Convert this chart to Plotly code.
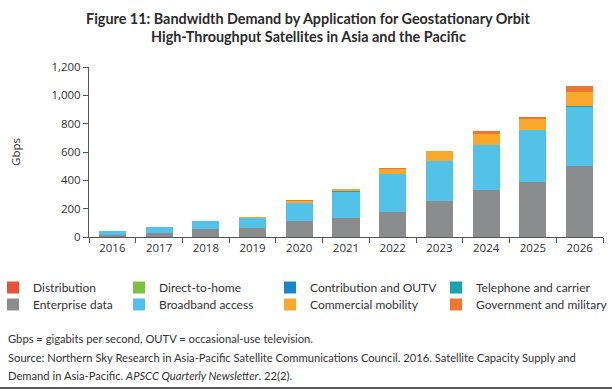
import plotly.graph_objects as go

years = ["2016", "2017", "2018", "2019", "2020", "2021", "2022", "2023", "2024", "2025", "2026"]
distribution = [0, 0, 0, 0, 0, 0, 0, 0, 0, 0, 0]
direct_to_home = [0, 0, 0, 0, 0, 0, 0, 0, 0, 0, 0]
contribution_outv = [0, 0, 0, 0, 0, 0, 0, 0, 0, 0, 0]
telephone_carrier = [0, 0, 0, 0, 0, 12, 0, 0, 0, 0, 5]
enterprise_data = [15, 30, 57, 63, 113, 134, 176, 257, 334, 388, 501]
broadband_access = [30, 43, 56, 73, 132, 184, 269, 279, 316, 370, 421]
commercial_mobility = [0, 0, 0, 5, 14, 12, 38, 73, 80, 78, 97]
government_military = [0, 0, 0, 0, 2, 0, 4, 0, 21, 14, 44]
y_ticks = [0, 200, 400, 600, 800, 1000, 1200]

W, H = 612, 389
ML, MR, MT, MB = 89, 9, 67, 152
PW = W - ML - MR
PH = H - MT - MB

def px_x(p):
    return (p - ML) / PW

def px_y(p):
    return (H - MB - p) / PH

BODY = "Lato, 'Open Sans', sans-serif"
TXT = "#333333"

# (name, values, colour, legend id) in stacking order (bottom -> top)
series = [
    ("Enterprise data", enterprise_data, "#8B8C8E", "legend5"),
    ("Broadband access", broadband_access, "#52C2E8", "legend6"),
    ("Telephone and carrier", telephone_carrier, "#1BA3AE", "legend4"),
    ("Distribution", distribution, "#E8503A", "legend"),
    ("Direct-to-home", direct_to_home, "#7DC142", "legend2"),
    ("Contribution and OUTV", contribution_outv, "#1A86C6", "legend3"),
    ("Commercial mobility", commercial_mobility, "#F9A82E", "legend7"),
    ("Government and military", government_military, "#EE7631", "legend8"),
]

fig = go.Figure()
for name, vals, col, leg in series:
    fig.add_trace(go.Bar(
        x=years, y=vals, name=name, marker=dict(color=col, line=dict(width=0)),
        legend=leg,
    ))

legend_common = dict(
    orientation="v", yanchor="top", xanchor="left",
    font=dict(family=BODY, size=12, color=TXT),
    bgcolor="rgba(0,0,0,0)", itemwidth=30, indentation=-10,
    traceorder="normal",
)
col_left = [3, 129, 280, 446]
row_top = [273, 290]
legend_ids = ["legend", "legend2", "legend3", "legend4",
              "legend5", "legend6", "legend7", "legend8"]
leg_layout = {}
for i, lid in enumerate(legend_ids):
    r, c = divmod(i, 4)
    leg_layout[lid] = dict(x=px_x(col_left[c]), y=px_y(row_top[r]), **legend_common)
fig.update_layout(**leg_layout)

fig.update_layout(
    width=W, height=H,
    margin=dict(l=ML, r=MR, t=MT, b=MB, pad=0, autoexpand=False),
    paper_bgcolor="white", plot_bgcolor="white",
    barmode="stack", bargap=0.42,
    showlegend=True,
    xaxis=dict(
        type="category", showline=True, linecolor="#555555", linewidth=1,
        ticks="outside", tickson="boundaries", ticklen=5, tickcolor="#555555",
        tickfont=dict(family="'Open Sans', sans-serif", size=11.5, color=TXT),
        showgrid=False, fixedrange=True,
    ),
    yaxis=dict(
        range=[0, 1200], tickvals=y_ticks, tickformat=",d",
        showline=True, linecolor="#555555", linewidth=1,
        ticks="outside", ticklen=5, tickcolor="#555555",
        tickfont=dict(family="'Open Sans', sans-serif", size=11.5, color=TXT),
        showgrid=False, zeroline=False,
        title=dict(text="Gbps", standoff=28,
                   font=dict(family="'Open Sans', sans-serif", size=11.5, color=TXT)),
    ),
)

title_lines = [
    (18.5, "<b>Figure 11: Bandwidth Demand by Application for Geostationary Orbit</b>"),
    (37, "<b>High-Throughput Satellites in Asia and the Pacific</b>"),
]
for ypx, t in title_lines:
    fig.add_annotation(
        text=t, xref="paper", yref="paper", x=px_x(308), y=px_y(ypx),
        xanchor="center", yanchor="middle", showarrow=False,
        font=dict(family=BODY, size=14.4, color="#2b2b2b"),
    )

notes = [
    (338, "Gbps = gigabits per second, OUTV = occasional-use television."),
    (357.5, "Source: Northern Sky Research in Asia-Pacific Satellite Communications Council. 2016. Satellite Capacity Supply and"),
    (375.5, "Demand in Asia-Pacific. <i>APSCC Quarterly Newsletter</i>. 22(2)."),
]
for ypx, t in notes:
    fig.add_annotation(
        text=t, xref="paper", yref="paper", x=px_x(6), y=px_y(ypx),
        xanchor="left", yanchor="middle", showarrow=False, align="left",
        font=dict(family=BODY, size=11.2, color=TXT),
    )

fig.add_shape(type="line", xref="paper", yref="paper",
              x0=px_x(0), x1=px_x(W), y0=px_y(388), y1=px_y(388),
              line=dict(color="#222222", width=1.5))

fig.write_html("out.html", config={"displayModeBar": False},
               post_script="document.body.style.margin='0';")
